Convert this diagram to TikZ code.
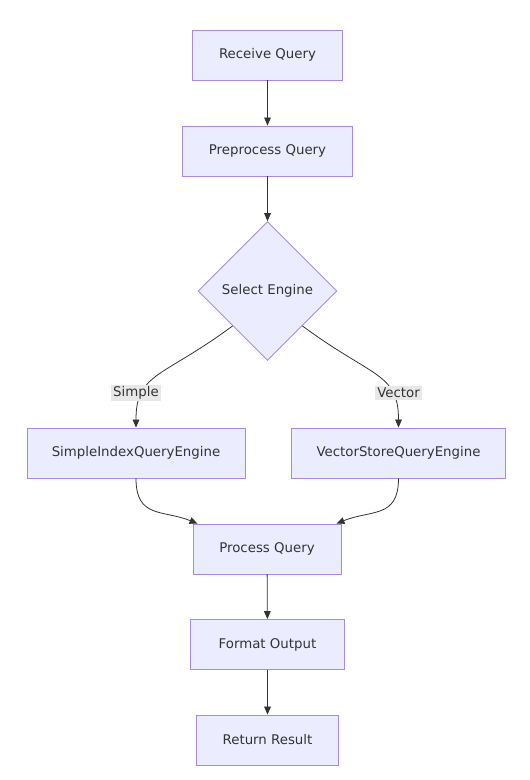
\documentclass[tikz,border=0pt]{standalone}
\usepackage{fontspec}
\setmainfont{DejaVu Sans}
\usetikzlibrary{shapes.geometric, arrows.meta, calc}

\definecolor{boxfill}{HTML}{ECECFF}
\definecolor{boxline}{HTML}{A88BE0}
\definecolor{ink}{HTML}{333333}
\definecolor{lblgray}{HTML}{E8E8E8}

\tikzset{
  stepbox/.style={draw=boxline, fill=boxfill, line width=0.65pt, text=ink,
    minimum height=37.5pt, inner sep=0pt, font=\fontsize{10}{12}\selectfont},
  choice/.style={diamond, aspect=1, draw=boxline, fill=boxfill, line width=0.65pt,
    text=ink, minimum size=104pt, inner sep=0pt, font=\fontsize{10}{12}\selectfont},
  lbl/.style={fill=lblgray, text=ink, inner sep=1.5pt, font=\fontsize{10}{12}\selectfont},
  flow/.style={draw=ink, line width=0.6pt, -{Triangle[length=6pt,width=5pt]}}
}

\begin{document}
\begin{tikzpicture}[x=0.75pt, y=-0.75pt]
  \useasboundingbox (0,0) rectangle (529,780);

  % Schritte
  \node[stepbox, minimum width=112pt] (recv) at (267.5,55) {Receive Query};
  \node[stepbox, minimum width=127pt] (prep) at (267.5,151) {Preprocess Query};
  \node[choice] (sel) at (267.5,291) {Select Engine};
  \node[stepbox, minimum width=163.5pt] (simple) at (136,453) {SimpleIndexQueryEngine};
  \node[stepbox, minimum width=161pt] (vector) at (398.5,453) {VectorStoreQueryEngine};
  \node[stepbox, minimum width=111pt] (proc) at (267,549) {Process Query};
  \node[stepbox, minimum width=115pt] (fmt) at (267.5,644.5) {Format Output};
  \node[stepbox, minimum width=107pt] (ret) at (267.5,740) {Return Result};

  % Verbindungen
  \draw[flow] (recv) -- (prep);
  \draw[flow] (prep) -- (sel);
  \draw[flow] (sel.south west) .. controls +(-70,52) and +(0,-55) .. (simple.north);
  \draw[flow] (sel.south east) .. controls +(70,52) and +(0,-55) .. (vector.north);
  \draw[flow] (simple.south) .. controls +(0,40) and +(-35,-14) .. ($(proc.north west)+(5,0)$);
  \draw[flow] (vector.south) .. controls +(0,40) and +(35,-14) .. ($(proc.north east)+(-5,0)$);
  \draw[flow] (proc) -- (fmt);
  \draw[flow] (fmt) -- (ret);

  % Beschriftungen
  \node[lbl] (simplelbl) at (136,393) {Simple};
  \node[lbl] (vectorlbl) at (398.5,393) {Vector};
\end{tikzpicture}
\end{document}
